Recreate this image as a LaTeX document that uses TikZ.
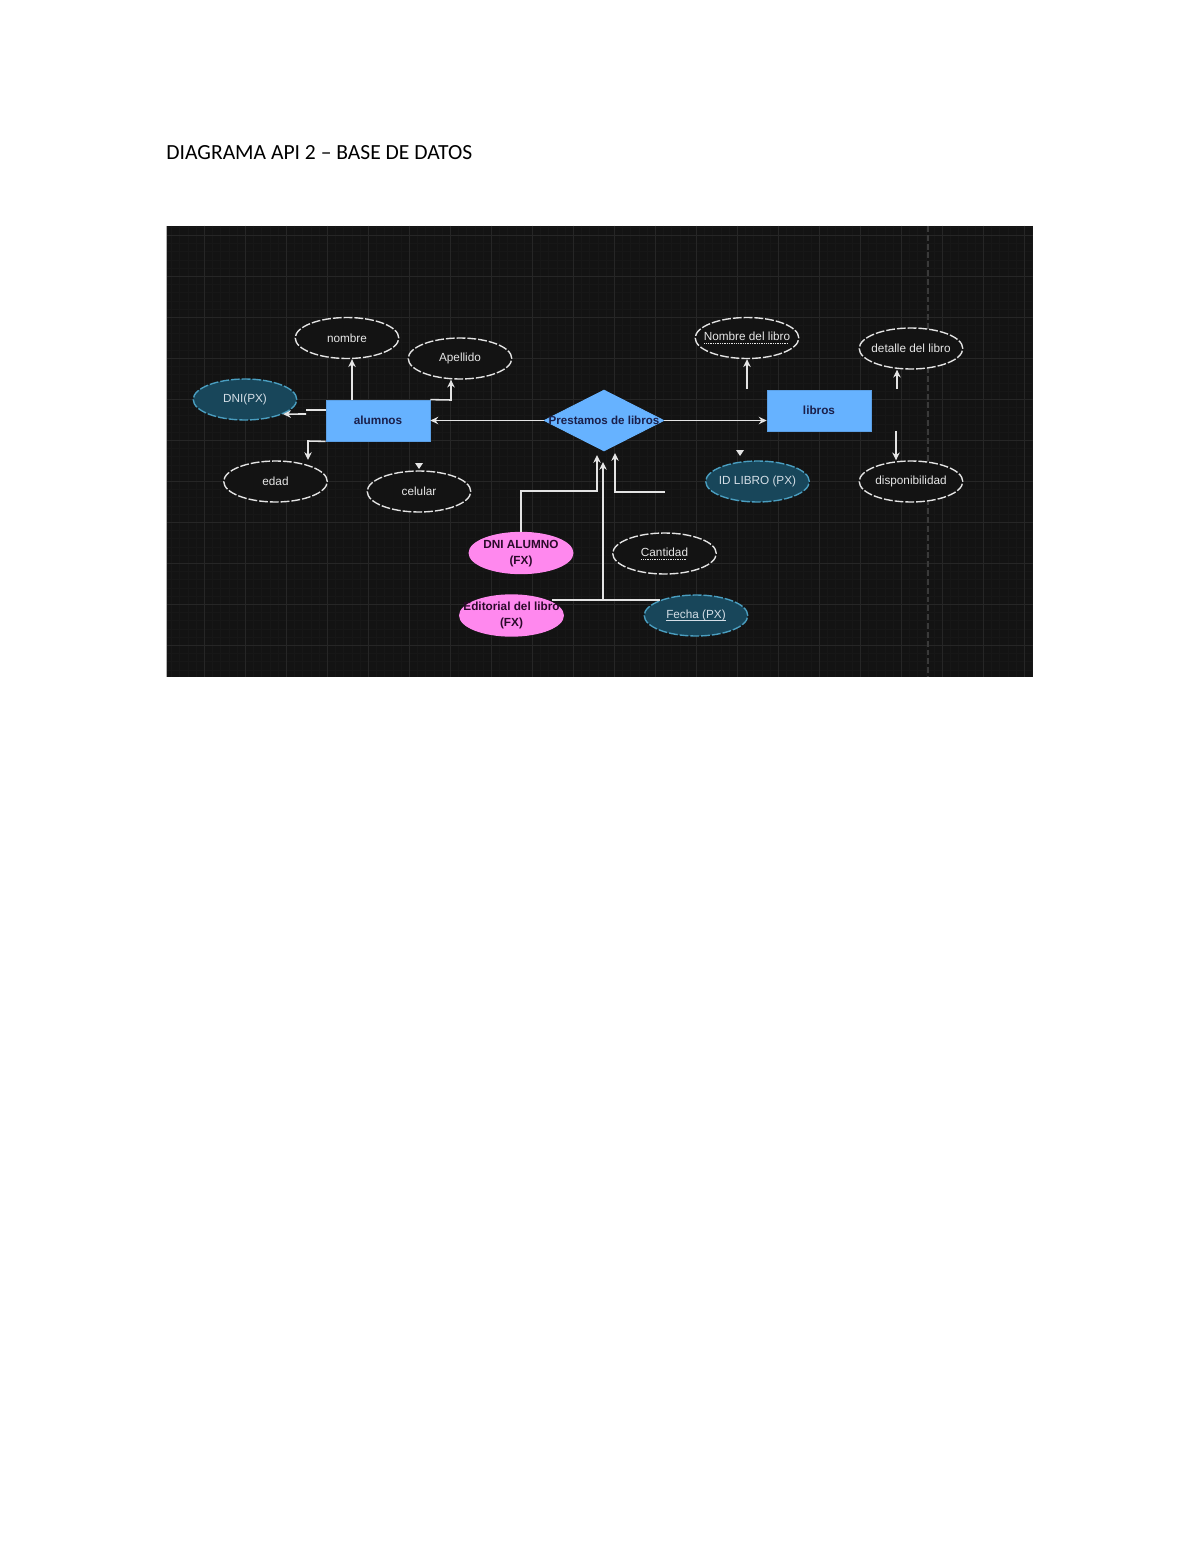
\documentclass[tikz,border=0pt]{standalone}
\usepackage{fontspec}
\setmainfont{Liberation Sans}
\newfontfamily\titlefont{Carlito}
\usetikzlibrary{shapes.geometric,arrows.meta}
\definecolor{bg}{HTML}{131313}
\definecolor{gridmaj}{HTML}{262626}
\definecolor{gridmin}{HTML}{171717}
\definecolor{dashC}{HTML}{3A3A3A}
\definecolor{lineC}{HTML}{E4E4E4}
\definecolor{blueF}{HTML}{66B2FF}
\definecolor{tealF}{HTML}{18465A}
\definecolor{tealD}{HTML}{4A9EC0}
\definecolor{pinkF}{HTML}{FF88EE}
\definecolor{txtW}{HTML}{E6E6E6}
\definecolor{txtT}{HTML}{D4DEE6}
\definecolor{txtB}{HTML}{1A1F4A}
\definecolor{txtP}{HTML}{2A0A2A}
\newcommand\mydotul[1]{\setbox0=\hbox{#1}\leavevmode\rlap{\raisebox{-1.6pt}{\hbox to \wd0{\leaders\hbox to 0.9pt{\hss\rule{0.5pt}{0.4pt}\hss}\hfill}}}\box0}
\newcommand\mysolidul[1]{\setbox0=\hbox{#1}\leavevmode\rlap{\raisebox{-1.4pt}{\rule{\wd0}{0.4pt}}}\box0}
\newcommand\fit[1]{\makebox[0pt][c]{#1}}
\begin{document}
\begin{tikzpicture}[x=0.51pt,y=-0.51pt,
  attr/.style={ellipse, draw=lineC, fill=bg, line width=0.7pt, dash pattern=on 4.5pt off 1pt,
    minimum width=52.8pt, minimum height=20.9pt, inner sep=0pt, text=txtW,
    font=\fontsize{6}{8}\selectfont},
  keyattr/.style={attr, fill=tealF, draw=tealD, text=txtT},
  fkattr/.style={attr, fill=pinkF, draw=pinkF, solid},
  fklbl/.style={inner sep=0pt, align=center, text=txtP,
    font=\bfseries\fontsize{6}{8.2}\selectfont},
  entity/.style={rectangle, fill=blueF, draw=blueF!90!black, line width=0.4pt,
    minimum width=53pt, minimum height=20.9pt, inner sep=0pt, text=txtB,
    font=\bfseries\fontsize{6}{8}\selectfont},
  relation/.style={diamond, fill=blueF, draw=blueF, minimum width=61.2pt,
    minimum height=31.1pt, inner sep=0pt, aspect=2},
  rellbl/.style={inner sep=0pt, text=txtB, font=\bfseries\fontsize{5.9}{8}\selectfont},
  ln/.style={draw=lineC, line width=0.8pt},
  arr/.style={ln, -{Stealth[length=4pt,width=3.8pt]}},
  tipmark/.style={fill=lineC}
]
\useasboundingbox[fill=white] (0,0) rectangle (1200,1553);

% title
\node[anchor=base west, inner sep=0pt, font=\titlefont\fontsize{11}{13}\selectfont]
  (title) at (166,160) {DIAGRAMA API 2 – BASE DE DATOS};

% canvas background and grid
\fill[bg] (166,226) rectangle (1033,677);
\begin{scope}
  \clip (166,226) rectangle (1033,677);
  \foreach \j in {-4,...,101} \draw[gridmin, line width=0.3pt] ({204.3+8.2*\j},226) -- ++(0,451);
  \foreach \j in {-1,...,53} \draw[gridmin, line width=0.3pt] (166,{235.3+8.2*\j}) -- ++(867,0);
  \foreach \k in {0,...,20} \draw[gridmaj, line width=0.6pt] ({204.3+41*\k},226) -- ++(0,451);
  \foreach \k in {0,...,10} \draw[gridmaj, line width=0.6pt] (166,{235.3+41*\k}) -- ++(867,0);
  \draw[dashC, line width=0.6pt, dash pattern=on 3pt off 1.5pt] (928,226) -- (928,677);
\end{scope}
\draw[gray!60, line width=0.5pt] (166,226) -- (166,677);

% nodes
\node[attr] (nombre) at (347,338) {\fit{nombre}};
\node[attr] (apellido) at (460,358.5) {\fit{Apellido}};
\node[keyattr] (dni) at (245,399.5) {\fit{DNI(PX)}};
\node[entity] (alumnos) at (378,420.5) {alumnos};
\node[attr] (edad) at (275.5,481.5) {\fit{edad}};
\node[attr] (celular) at (419,491.5) {\fit{celular}};
\node[relation] (prest) at (604,420.5) {};
\node[rellbl] (prestlbl) at (604,420) {Prestamos de libros};
\node[attr] (nlibro) at (747,338) {\fit{\mydotul{Nombre del libro}}};
\node[attr] (detalle) at (911,348.5) {\fit{detalle del libro}};
\node[entity] (libros) at (819,410.5) {libros};
\node[keyattr] (idlibro) at (757.5,481.5) {\fit{ID LIBRO (PX)}};
\node[attr] (dispo) at (911,481.5) {\fit{disponibilidad}};
\node[fkattr] (dnia) at (521,553) {};
\node[attr] (cantidad) at (664.5,553.5) {\fit{\mydotul{Cantidad}}};
\node[fkattr] (edit) at (511.5,615.5) {};
\node[keyattr] (fecha) at (696,615.5) {\fit{\mysolidul{Fecha (PX)}}};

% anchor coordinates
\coordinate (a1) at (352,400);
\coordinate (a2) at (451,400);
\coordinate (a3) at (326,410);
\coordinate (a4) at (306,410);
\coordinate (a5) at (306,414);
\coordinate (a6) at (308,441);
\coordinate (a7) at (308,460);
\coordinate (l1) at (747,389);
\coordinate (l2) at (897,389);
\coordinate (l3) at (896,431);
\coordinate (p1) at (597,455);
\coordinate (p2) at (603,462);
\coordinate (p2b) at (603,600);
\coordinate (p3) at (615,453);
\coordinate (p3b) at (665,492);
\coordinate (e1) at (552,600);
\coordinate (f1) at (660,600);

% connectors
\draw[arr] (a1) -- (a1 |- nombre.south);
\draw[arr] (alumnos.north east) -- (a2) -- (a2 |- apellido.south);
\draw[ln] (a3) -- (a4);
\draw[arr] (a5) -- (dni.-21.5);
\draw[arr] (alumnos.south west) -- (a6) -- (a7);
\draw[arr] (prest.west) -- (alumnos.east);
\draw[arr] (prest.east) -- (prest.east -| libros.west);
\draw[arr] (l1) -- (l1 |- nlibro.south);
\draw[arr] (l2) -- (l2 |- detalle.south);
\draw[arr] (l3) -- (l3 |- dispo.north);
\draw[arr] (dnia.north) -- ++(0,-41) -| (p1);
\draw[ln] (e1) -- (f1);
\draw[arr] (p2b) -- (p2);
\draw[arr] (p3b) -| (p3);

% labels of the foreign-key attributes (on top)
\node[fklbl] (dnialbl) at (521,554) {DNI ALUMNO\\(FX)};
\node[fklbl] (editlbl) at (511.5,615.5) {Editorial del libro\\(FX)};

% stray arrow heads
\fill[tipmark] (415,463) -- (423,463) -- (419,469) -- cycle;
\fill[tipmark] (736,450) -- (744,450) -- (740,456) -- cycle;
\end{tikzpicture}
\end{document}
